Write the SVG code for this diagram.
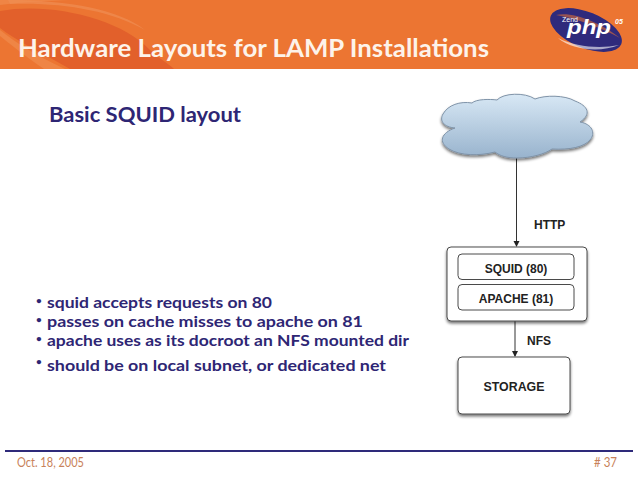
<svg xmlns="http://www.w3.org/2000/svg" width="638" height="478" viewBox="0 0 638 478">
<defs>
<linearGradient id="cl" x1="0" y1="0" x2="0" y2="1"><stop offset="0" stop-color="#d8e8f5"/><stop offset="1" stop-color="#98b3cd"/></linearGradient>
<filter id="sh" x="-10%" y="-10%" width="120%" height="125%"><feGaussianBlur in="SourceAlpha" stdDeviation="1.6"/><feOffset dy="2"/><feComponentTransfer><feFuncA type="linear" slope="0.55"/></feComponentTransfer><feMerge><feMergeNode/><feMergeNode in="SourceGraphic"/></feMerge></filter>
<marker id="ah" markerWidth="8" markerHeight="8" refX="5" refY="3" orient="auto" markerUnits="userSpaceOnUse"><path d="M0 0L6 3L0 6z" fill="#222"/></marker>
<style>
.box{fill:#fff;stroke:#4a4a4a;stroke-width:1}
.lbl{font:bold 12px "Liberation Sans",Arial,sans-serif;fill:#222}
.head{font-family:"Lato","Open Sans",sans-serif;font-weight:700}
.b{font:700 16px "Lato","Open Sans",sans-serif;fill:#2e2674}
.dot{font:700 10px "Lato","Open Sans",sans-serif;fill:#2e2674}
.f{font:13px "Lato","Open Sans",sans-serif;fill:#c8825a}
.conn{stroke:#333;stroke-width:1;fill:none;marker-end:url(#ah)}
</style>
</defs>
<rect width="638" height="478" fill="#fff"/>
<g id="header">
<rect width="638" height="69" fill="#ec7532"/>
<path d="M0 0H110C90 -1 40 0 0 5z" fill="#ef8545"/>
<path d="M0 11C50 2 120 18 150 50C158 58 168 63 174 69H70C40 52 15 40 0 28z" fill="#e2602b"/>
<path d="M8 0C70 0 120 10 145 30C110 10 60 2 10 4z" fill="#f08d52" opacity=".7"/>
<path d="M0 30C15 42 35 55 65 69H44C25 56 10 44 0 36z" fill="#ef8545"/>
<text class="head" x="18" y="57" font-size="25" fill="#fdf3ea" textLength="471" lengthAdjust="spacingAndGlyphs">Hardware Layouts for LAMP Installations</text>
</g>
<g id="logo">
<ellipse cx="586" cy="30" rx="38" ry="18" transform="rotate(22 586 30)" fill="#2f2a7c"/>
<path d="M556 15C572 11 600 22 620 38C600 27 575 18 556 15z" fill="#ec7532" opacity=".55"/>
<path d="M558 38C572 50 600 53 619 45C600 49 576 47 558 38z" fill="#fff" opacity=".6"/>
<text x="567" y="34" font-family="Liberation Sans,sans-serif" font-weight="700" font-style="italic" font-size="20" fill="#fff" textLength="44" lengthAdjust="spacingAndGlyphs">php</text>
<text x="562" y="22" font-family="Liberation Sans,sans-serif" font-size="6.500" fill="#fff" textLength="16" lengthAdjust="spacingAndGlyphs">Zend</text>
<text x="615" y="24" font-family="Liberation Sans,sans-serif" font-weight="700" font-style="italic" font-size="7" fill="#fff">05</text>
</g>
<text class="head" x="49" y="122" font-size="21" fill="#2e2674" textLength="192" lengthAdjust="spacingAndGlyphs">Basic SQUID layout</text>
<g id="bullets">
<text class="dot" x="36" y="304">•</text><text class="b" x="47" y="308" textLength="225" lengthAdjust="spacingAndGlyphs">squid accepts requests on 80</text>
<text class="dot" x="36" y="323">•</text><text class="b" x="47" y="327" textLength="316" lengthAdjust="spacingAndGlyphs">passes on cache misses to apache on 81</text>
<text class="dot" x="36" y="342">•</text><text class="b" x="47" y="346" textLength="362" lengthAdjust="spacingAndGlyphs">apache uses as its docroot an NFS mounted dir</text>
<text class="dot" x="36" y="365">•</text><text class="b" x="47" y="371" textLength="339" lengthAdjust="spacingAndGlyphs">should be on local subnet, or dedicated net</text>
</g>
<g id="connectors">
<path class="conn" d="M516.5 157V246"/>
<path class="conn" d="M515 321V356"/>
</g>
<g id="cloud">
<path d="M455 128C444 127 439 121 443 114C448 105 460 101 472 103C476 99 490 99 497 100C503 93 525 92 535 99C545 95 565 95 575 101C588 106 592 114 580 122C592 124 596 133 590 140C584 147 570 150 552 149C545 154 531 158 517 158C507 158 500 156 495 152C480 156 460 156 449 149C438 142 441 133 455 128z" fill="url(#cl)" stroke="#7f93a8" stroke-width="1" filter="url(#sh)"/>
</g>
<g id="server">
<rect class="box" x="447" y="247" width="140" height="74" rx="4" filter="url(#sh)"/>
</g>
<g id="squid">
<rect class="box" x="458" y="254" width="116" height="25.500" rx="4"/>
<text class="lbl" x="516" y="273" text-anchor="middle">SQUID (80)</text>
</g>
<g id="apache">
<rect class="box" x="458" y="284.500" width="116" height="25.500" rx="4"/>
<text class="lbl" x="516" y="303" text-anchor="middle">APACHE (81)</text>
</g>
<g id="storage">
<rect class="box" x="458" y="357" width="112" height="57" rx="4" filter="url(#sh)"/>
<text class="lbl" x="514" y="391" text-anchor="middle" textLength="61" lengthAdjust="spacingAndGlyphs">STORAGE</text>
</g>
<text class="lbl" x="534" y="229">HTTP</text>
<text class="lbl" x="527" y="345">NFS</text>
<g id="footer">
<rect x="5" y="450" width="628" height="2" fill="#2e2a7a"/>
<text class="f" x="17" y="467" textLength="67" lengthAdjust="spacingAndGlyphs">Oct. 18, 2005</text>
<text class="f" x="594" y="467" textLength="23" lengthAdjust="spacingAndGlyphs"># 37</text>
</g>
</svg>
